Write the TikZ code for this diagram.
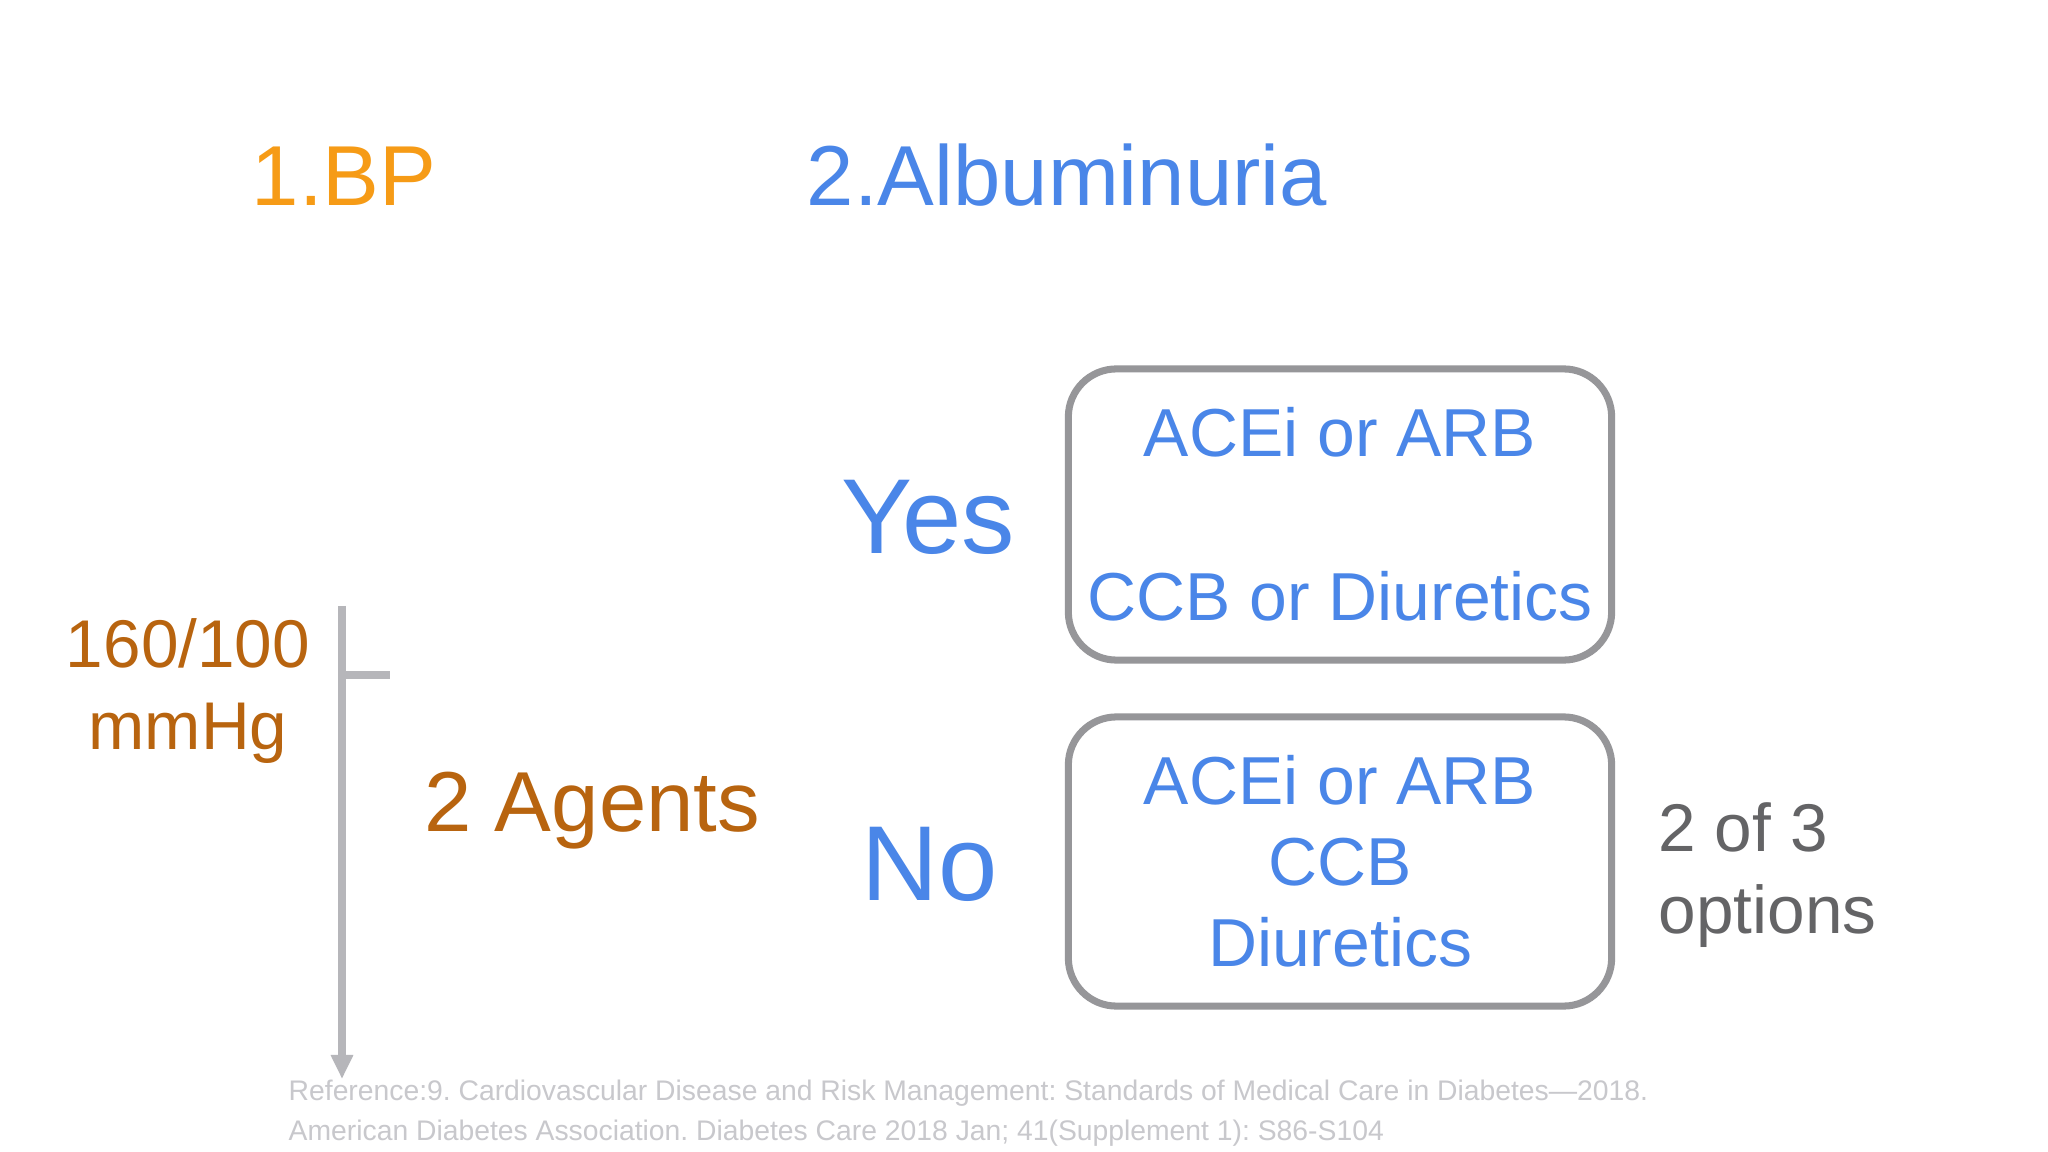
\documentclass[tikz,border=0pt]{standalone}
\usepackage{fontspec}
\setmainfont{Liberation Sans}
\usepackage{tikz}
\usetikzlibrary{arrows.meta, positioning}
\definecolor{bporange}{RGB}{246,155,22}
\definecolor{albblue}{RGB}{74,134,232}
\definecolor{agentbrown}{RGB}{184,100,15}
\definecolor{boxgray}{RGB}{150,150,153}
\definecolor{linegray}{RGB}{182,182,186}
\definecolor{notegray}{RGB}{100,100,102}
\definecolor{refgray}{RGB}{200,200,204}
\frenchspacing

\begin{document}
\begin{tikzpicture}[
    x=0.01cm, y=-0.01cm,
    >={Triangle[width=0.21cm, length=0.24cm]},
    title/.style={font=\fontsize{24.2}{29}\selectfont, inner sep=0pt, anchor=base},
    answer/.style={font=\fontsize{30.3}{36}\selectfont, text=albblue,
                   inner sep=0pt, anchor=base},
    drugbox/.style={draw=boxgray, line width=2pt, rounded corners=0.48cm,
                    minimum width=5.43cm, align=center, text=albblue,
                    font=\fontsize{19.3}{23}\selectfont},
    note/.style={font=\fontsize{19.2}{23.3}\selectfont, inner sep=0pt, anchor=base},
    bpline/.style={draw=linegray, line width=2pt}
]
\useasboundingbox[fill=white] (0,0) rectangle (2048,1152);

% headings
\node[title, text=bporange] (bp) at (344,206) {1.BP};
\node[title, text=albblue] (alb) at (1067,206) {2.Albuminuria};

% answers and drug boxes
\node[answer] (yes) at (928,554) {Yes};
\node[answer] (no) at (930,900) {No};
\node[drugbox, minimum height=2.91cm] (yesbox) at (1340,514.5)
    {ACEi or ARB\\[23.7pt] CCB or Diuretics};
\node[drugbox, minimum height=2.89cm] (nobox) at (1340,861.5)
    {ACEi or ARB\\ CCB\\ Diuretics};
\node[note, text=notegray, align=left, anchor=base west] (options) at (1658,933)
    {2 of 3\\ options};

% blood pressure scale
\node[note, text=agentbrown, align=center] (bplevel) at (188,749) {160/100\\ mmHg};
\node[title, text=agentbrown] (agents) at (592,831) {2 Agents};
\coordinate (bptop) at (342,606);
\coordinate (bpend) at (342,1079);
\coordinate (bptick) at (342,675);
\draw[bpline, ->] (bptop) -- (bpend);
\draw[bpline] (bptick) -- ++(48,0);

% reference
\node[font=\fontsize{8.05}{11.1}\selectfont, text=refgray, inner sep=0pt,
      anchor=base west, align=left] (ref) at (288,1140)
    {Reference:9. Cardiovascular Disease and Risk Management: Standards of Medical Care in Diabetes---2018.\\
     American Diabetes Association. Diabetes Care 2018 Jan; 41(Supplement 1): S86-S104};
\end{tikzpicture}
\end{document}
